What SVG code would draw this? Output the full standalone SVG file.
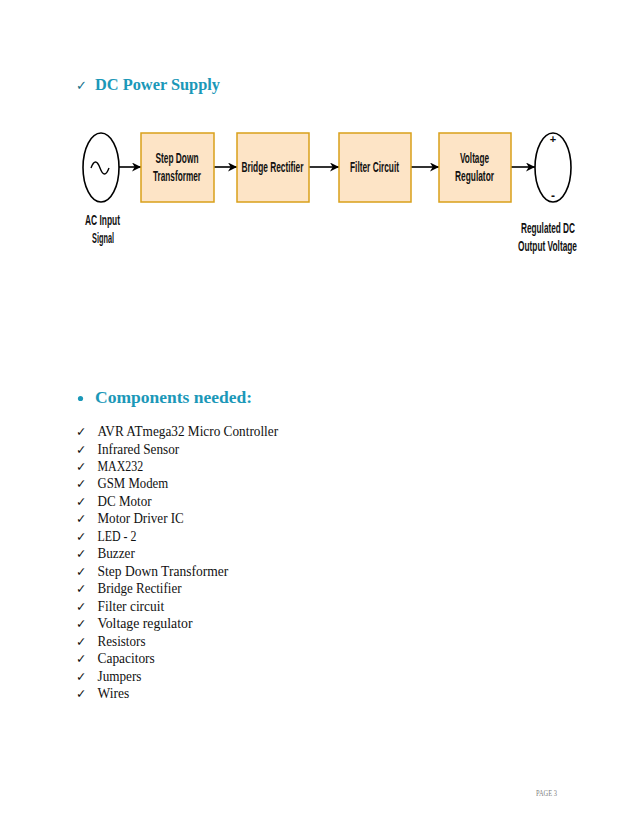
<svg xmlns="http://www.w3.org/2000/svg" width="638" height="826" viewBox="0 0 638 826">
<style>
.box{fill:#fde4c6;stroke:#d9a01a;stroke-width:1.5}
.bt{font-family:"Liberation Sans Narrow","Liberation Sans",Arial,sans-serif;font-weight:bold;font-size:14.5px;fill:#111;text-anchor:middle}
.conn{stroke:#000;stroke-width:1.6;fill:none}
.head{font-family:"Liberation Serif","DejaVu Serif",serif;font-weight:bold;font-size:16px;fill:#1b98b8}
.item{font-family:"Liberation Serif","DejaVu Serif",serif;font-size:14px;fill:#111}
.chk{font-family:"DejaVu Sans",sans-serif;font-size:12.5px;fill:#111}
</style>
<defs>
<marker id="arr" viewBox="0 0 10 10" refX="10" refY="5" markerUnits="userSpaceOnUse" markerWidth="9" markerHeight="9" orient="auto">
<path d="M0,0 L10,5 L0,10 L3,5 z" fill="#000"/>
</marker>
</defs>
<rect width="638" height="826" fill="#fff"/>

<g id="heading1">
<text class="chk" x="76" y="90" style="font-size:13px;fill:#15708a">✓</text>
<text class="head" x="95" y="90" textLength="125" lengthAdjust="spacingAndGlyphs">DC Power Supply</text>
</g>

<g id="connectors">
<line class="conn" x1="119" y1="167" x2="141" y2="167" marker-end="url(#arr)"/>
<line class="conn" x1="214" y1="167" x2="237" y2="167" marker-end="url(#arr)"/>
<line class="conn" x1="309" y1="167" x2="339" y2="167" marker-end="url(#arr)"/>
<line class="conn" x1="411" y1="167" x2="439" y2="167" marker-end="url(#arr)"/>
<line class="conn" x1="511" y1="167" x2="535" y2="167" marker-end="url(#arr)"/>
</g>

<g id="ac_input">
<ellipse cx="101" cy="167.5" rx="18" ry="34.5" fill="#fff" stroke="#000" stroke-width="1.6"/>
<path d="M91,168 Q95.5,156 100,168 T109,168" fill="none" stroke="#000" stroke-width="1.4"/>
<text class="bt" x="102.5" y="225" textLength="35" lengthAdjust="spacingAndGlyphs">AC Input</text>
<text class="bt" x="103" y="243" textLength="22" lengthAdjust="spacingAndGlyphs">Signal</text>
</g>

<g id="step_down">
<rect class="box" x="141" y="133" width="73" height="69"/>
<text class="bt" x="177" y="162.5" textLength="43" lengthAdjust="spacingAndGlyphs">Step Down</text>
<text class="bt" x="177" y="180.5" textLength="48" lengthAdjust="spacingAndGlyphs">Transformer</text>
</g>

<g id="bridge">
<rect class="box" x="237" y="133" width="72" height="69"/>
<text class="bt" x="272.5" y="171.5" textLength="62" lengthAdjust="spacingAndGlyphs">Bridge Rectifier</text>
</g>

<g id="filter">
<rect class="box" x="339" y="133" width="72" height="69"/>
<text class="bt" x="374.5" y="171.5" textLength="49" lengthAdjust="spacingAndGlyphs">Filter Circuit</text>
</g>

<g id="regulator">
<rect class="box" x="439" y="133" width="72" height="69"/>
<text class="bt" x="474.5" y="162.5" textLength="29" lengthAdjust="spacingAndGlyphs">Voltage</text>
<text class="bt" x="474.5" y="180.5" textLength="39" lengthAdjust="spacingAndGlyphs">Regulator</text>
</g>

<g id="dc_output">
<ellipse cx="553" cy="167.5" rx="18" ry="34.5" fill="#fff" stroke="#000" stroke-width="1.6"/>
<text class="bt" x="553" y="143" style="font-size:11px">+</text>
<text class="bt" x="553" y="200" style="font-size:12px">-</text>
<text class="bt" x="548" y="232.5" textLength="54" lengthAdjust="spacingAndGlyphs">Regulated DC</text>
<text class="bt" x="547.5" y="250.5" textLength="59" lengthAdjust="spacingAndGlyphs">Output Voltage</text>
</g>

<g id="heading2">
<circle cx="80.5" cy="398.5" r="2.6" fill="#1b98b8"/>
<text class="head" x="95" y="403" textLength="157" lengthAdjust="spacingAndGlyphs">Components needed:</text>
</g>

<g id="list">
<text class="chk" x="76" y="436">✓</text><text class="item" x="97.5" y="436" textLength="180.6" lengthAdjust="spacingAndGlyphs">AVR ATmega32 Micro Controller</text>
<text class="chk" x="76" y="453.5">✓</text><text class="item" x="97.5" y="453.5" textLength="81.7" lengthAdjust="spacingAndGlyphs">Infrared Sensor</text>
<text class="chk" x="76" y="470.9">✓</text><text class="item" x="97.5" y="470.9" textLength="45.7" lengthAdjust="spacingAndGlyphs">MAX232</text>
<text class="chk" x="76" y="488.4">✓</text><text class="item" x="97.5" y="488.4" textLength="70.7" lengthAdjust="spacingAndGlyphs">GSM Modem</text>
<text class="chk" x="76" y="505.9">✓</text><text class="item" x="97.5" y="505.9" textLength="54" lengthAdjust="spacingAndGlyphs">DC Motor</text>
<text class="chk" x="76" y="523.4">✓</text><text class="item" x="97.5" y="523.4" textLength="86.3" lengthAdjust="spacingAndGlyphs">Motor Driver IC</text>
<text class="chk" x="76" y="540.8">✓</text><text class="item" x="97.5" y="540.8" textLength="39" lengthAdjust="spacingAndGlyphs">LED - 2</text>
<text class="chk" x="76" y="558.3">✓</text><text class="item" x="97.5" y="558.3" textLength="37.3" lengthAdjust="spacingAndGlyphs">Buzzer</text>
<text class="chk" x="76" y="575.8">✓</text><text class="item" x="97.5" y="575.8" textLength="130.7" lengthAdjust="spacingAndGlyphs">Step Down Transformer</text>
<text class="chk" x="76" y="593.2">✓</text><text class="item" x="97.5" y="593.2" textLength="84" lengthAdjust="spacingAndGlyphs">Bridge Rectifier</text>
<text class="chk" x="76" y="610.7">✓</text><text class="item" x="97.5" y="610.7" textLength="66.7" lengthAdjust="spacingAndGlyphs">Filter circuit</text>
<text class="chk" x="76" y="628.2">✓</text><text class="item" x="97.5" y="628.2" textLength="95" lengthAdjust="spacingAndGlyphs">Voltage regulator</text>
<text class="chk" x="76" y="645.6">✓</text><text class="item" x="97.5" y="645.6" textLength="48" lengthAdjust="spacingAndGlyphs">Resistors</text>
<text class="chk" x="76" y="663.1">✓</text><text class="item" x="97.5" y="663.1" textLength="57.3" lengthAdjust="spacingAndGlyphs">Capacitors</text>
<text class="chk" x="76" y="680.6">✓</text><text class="item" x="97.5" y="680.6" textLength="44" lengthAdjust="spacingAndGlyphs">Jumpers</text>
<text class="chk" x="76" y="698.1">✓</text><text class="item" x="97.5" y="698.1" textLength="31.7" lengthAdjust="spacingAndGlyphs">Wires</text>
</g>

<g id="footer">
<text x="536" y="796" style="font-family:'Liberation Serif',serif;font-size:8.5px;fill:#7f7f7f" textLength="21" lengthAdjust="spacingAndGlyphs">PAGE 3</text>
</g>
</svg>
